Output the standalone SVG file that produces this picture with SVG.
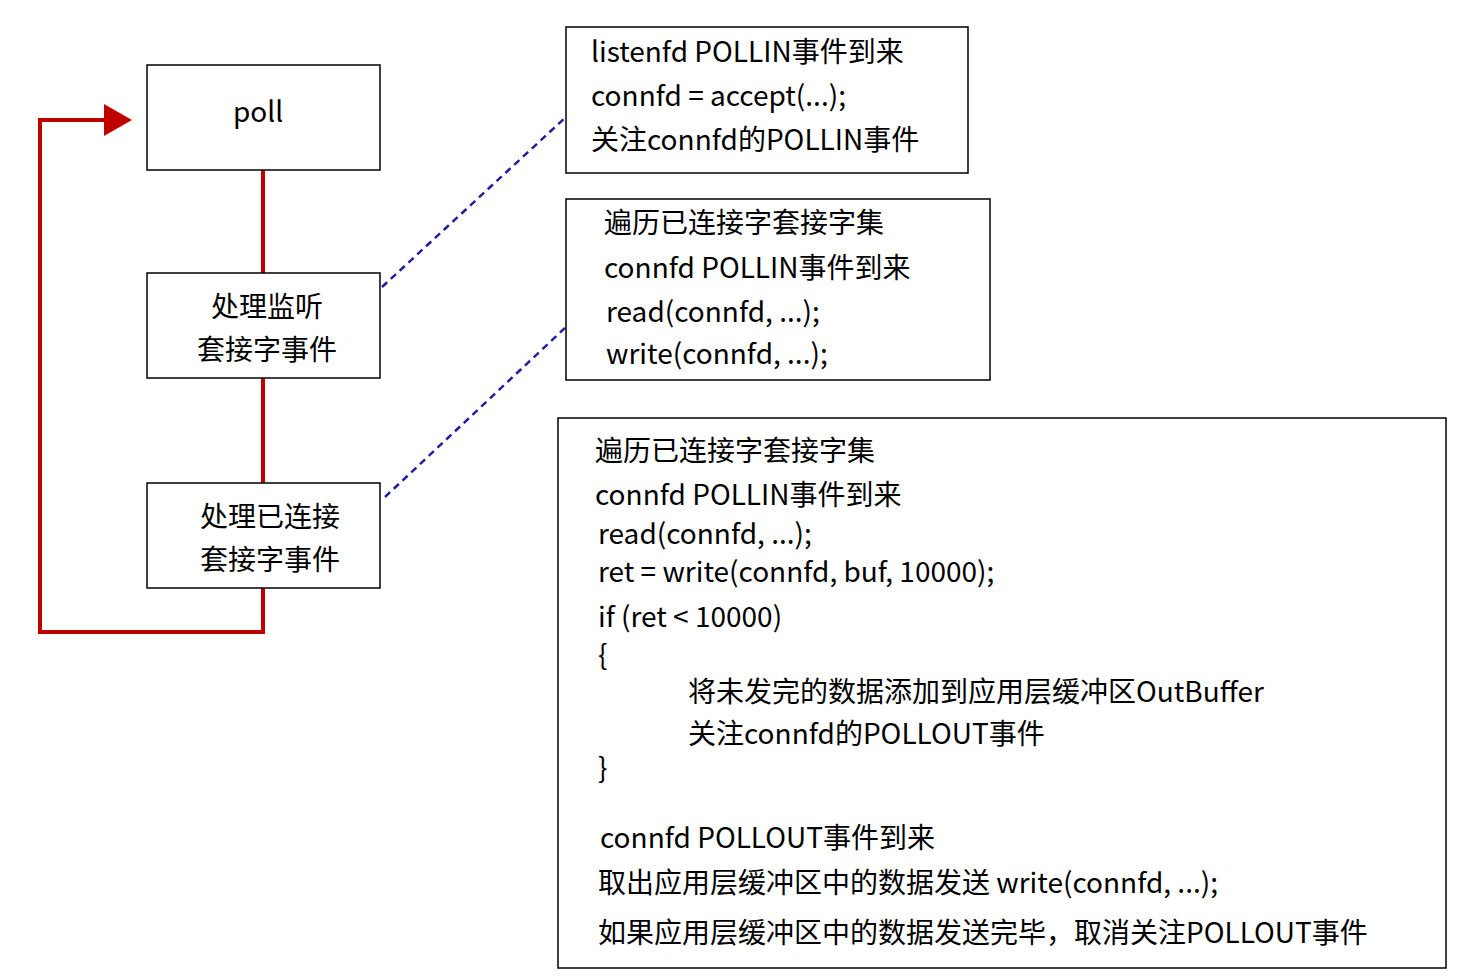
<svg xmlns="http://www.w3.org/2000/svg" width="1480" height="980" viewBox="0 0 1480 980">
<style>
.b{fill:#fff;stroke:#000;stroke-width:1.5}
.t{font-family:"Noto Sans CJK SC","Noto Sans",sans-serif;font-size:28px;fill:#000}
.r{fill:none;stroke:#c00000;stroke-width:4}
.d{fill:none;stroke:#1f1fa0;stroke-width:2.5;stroke-dasharray:7,5}
</style>
<defs><marker id="a" markerWidth="8" markerHeight="8" refX="6" refY="4" orient="auto" markerUnits="strokeWidth"><path d="M0,0L7,4L0,8z" fill="#c00000"/></marker></defs>
<rect width="1480" height="980" fill="#fff"/>
<g id="connectors">
<path class="r" d="M263,170V273M263,378V483"/>
<path class="r" d="M263,588V632H40V120H128" marker-end="url(#a)"/>
<path class="d" d="M382,287L566,117M385,497L566,327"/>
</g>
<g id="poll"><rect class="b" x="147" y="65" width="233" height="105"/><text class="t" x="258" y="122" text-anchor="middle">poll</text></g>
<g id="listen"><rect class="b" x="147" y="273" width="233" height="105"/><text class="t" x="267" y="317" text-anchor="middle">处理监听</text><text class="t" x="267" y="360" text-anchor="middle">套接字事件</text></g>
<g id="conn"><rect class="b" x="147" y="483" width="233" height="105"/><text class="t" x="270" y="527" text-anchor="middle">处理已连接</text><text class="t" x="270" y="570" text-anchor="middle">套接字事件</text></g>
<g id="boxA"><rect class="b" x="566" y="27" width="402" height="146"/>
<text class="t" x="591" y="62">listenfd POLLIN事件到来</text>
<text class="t" x="591" y="106">connfd = accept(...);</text>
<text class="t" x="591" y="150">关注connfd的POLLIN事件</text></g>
<g id="boxB"><rect class="b" x="566" y="199" width="424" height="181"/>
<text class="t" x="604" y="233">遍历已连接字套接字集</text>
<text class="t" x="604" y="278">connfd POLLIN事件到来</text>
<text class="t" x="606" y="322">read(connfd, ...);</text>
<text class="t" x="606" y="364">write(connfd, ...);</text></g>
<g id="boxC"><rect class="b" x="558" y="418" width="888" height="550"/>
<text class="t" x="595" y="461">遍历已连接字套接字集</text>
<text class="t" x="595" y="505">connfd POLLIN事件到来</text>
<text class="t" x="598" y="544">read(connfd, ...);</text>
<text class="t" x="598" y="582">ret = write(connfd, buf, 10000);</text>
<text class="t" x="598" y="627">if (ret &lt; 10000)</text>
<text class="t" x="598" y="665">{</text>
<text class="t" x="688" y="702">将未发完的数据添加到应用层缓冲区OutBuffer</text>
<text class="t" x="688" y="744">关注connfd的POLLOUT事件</text>
<text class="t" x="598" y="778">}</text>
<text class="t" x="600" y="848">connfd POLLOUT事件到来</text>
<text class="t" x="598" y="893">取出应用层缓冲区中的数据发送  write(connfd, ...);</text>
<text class="t" x="598" y="943">如果应用层缓冲区中的数据发送完毕，取消关注POLLOUT事件</text></g>
</svg>
